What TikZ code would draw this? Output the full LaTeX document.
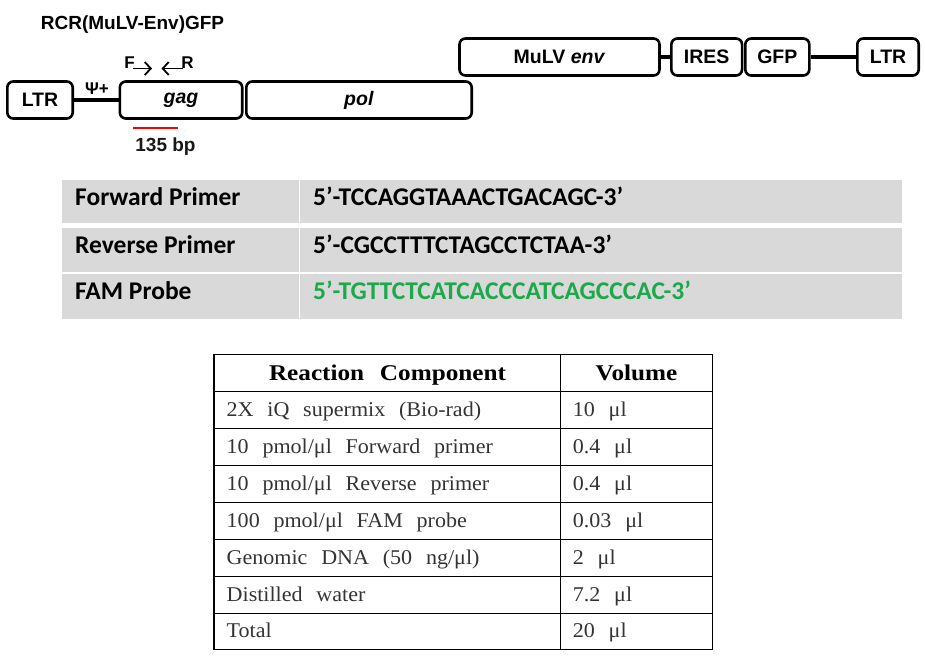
\documentclass[tikz,border=0pt]{standalone}
\usepackage{fontspec}
\usetikzlibrary{arrows.meta}
\setmainfont{Liberation Sans}
\newfontfamily\primerfont{Carlito}
\newfontfamily\mixfont[FakeStretch=1.05,WordSpace=2.5]{Liberation Serif}
\newfontfamily\mixhead[FakeStretch=1.12,WordSpace=2.5]{Liberation Serif}
\definecolor{cellgray}{HTML}{D9D9D9}
\definecolor{probegreen}{HTML}{1DA84A}
\tikzset{
  gene/.style={draw, line width=2.6pt, rounded corners=6pt, inner sep=0pt, minimum height=37pt, font=\fontsize{19.5}{22}\selectfont\bfseries},
  link/.style={line width=3.6pt},
  primer/.style={-{Straight Barb[length=6pt,width=13pt]}, line width=1.8pt},
  label/.style={anchor=base west, inner sep=0pt, font=\primerfont\fontsize{25.5}{28}\selectfont\bfseries},
  mixcell/.style={anchor=base west, inner sep=0pt, text=black!80, font=\mixfont\fontsize{21}{24}\selectfont},
  mixtitle/.style={anchor=base, inner sep=0pt, font=\mixhead\fontsize{22.5}{26}\selectfont\bfseries}
}
\begin{document}
\begin{tikzpicture}[x=1pt, y=-1pt]
\useasboundingbox (0,0) rectangle (925,660);
% vector map
\node[inner sep=0pt, font=\fontsize{19}{22}\selectfont\bfseries] (title) at (132.5,25) {RCR(MuLV-Env)GFP};
\node[gene, minimum width=65.4pt] (ltrA) at (40,100) {LTR};
\node[gene, minimum width=122.4pt] (gag) at (181,100) {\textit{gag}};
\node[gene, minimum width=225.4pt] (pol) at (359,100) {\textit{pol}};
\node[gene, minimum width=200pt] (env) at (559.5,57) {MuLV \textit{env}};
\node[gene, minimum width=70.7pt] (ires) at (706.7,57) {IRES};
\node[gene, minimum width=64pt] (gfp) at (777.3,57) {GFP};
\node[gene, minimum width=61.4pt] (ltrB) at (888,57) {LTR};
\draw[line width=4.6pt] (ltrA) -- (gag);
\draw[link] (env) -- (ires);
\draw[link] (gfp) -- (ltrB);
\node[inner sep=0pt, font=\fontsize{17}{20}\selectfont\bfseries] (psi) at (97,89) {Ψ+};
% primers
\node[inner sep=0pt, font=\fontsize{17}{20}\selectfont\bfseries] (fwd) at (129.5,62.5) {F};
\node[inner sep=0pt, font=\fontsize{17}{20}\selectfont\bfseries] (rev) at (187.5,62.5) {R};
\coordinate (fA) at (133,68.5);
\coordinate (fB) at (152,68.5);
\coordinate (rA) at (182.5,68.5);
\coordinate (rB) at (161.5,68.5);
\draw[primer] (fA) -- (fB);
\draw[primer] (rA) -- (rB);
\coordinate (ampA) at (133,127.7);
\coordinate (ampB) at (178,127.7);
\draw[red, line width=2pt] (ampA) -- (ampB);
\node[inner sep=0pt, font=\fontsize{19}{22}\selectfont\bfseries, text=black!90] (amp) at (165.5,146.5) {135 bp};
% primer table
\fill[cellgray] (62,180) rectangle (298.5,222.7);
\fill[cellgray] (300,180) rectangle (901.7,222.7);
\fill[cellgray] (62,228) rectangle (298.5,271.7);
\fill[cellgray] (300,228) rectangle (901.7,271.7);
\fill[cellgray] (62,274) rectangle (298.5,319);
\fill[cellgray] (300,274) rectangle (901.7,319);
\node[label] (fname) at (75,206) {Forward Primer};
\node[label] (rname) at (75,253.3) {Reverse Primer};
\node[label] (pname) at (75,299.6) {FAM Probe};
\node[label] (fseq) at (313,206) {5’-TCCAGGTAAACTGACAGC-3’};
\node[label] (rseq) at (313,253.3) {5’-CGCCTTTCTAGCCTCTAA-3’};
\node[label, text=probegreen] (pseq) at (313,299.6) {5’-TGTTCTCATCACCCATCAGCCCAC-3’};
% reaction mix
\draw[line width=1.4pt] (214,354.3) rectangle (712.3,649.3);
\draw[line width=1.4pt] (560.7,354.3) -- (560.7,649.3);
\foreach \y in {391.7,428.7,465.7,502.7,539.7,576.7,613.7}
  \draw[line width=1.4pt] (214,\y) -- (712.3,\y);
\node[mixtitle] (hcomp) at (387.5,380.7) {Reaction Component};
\node[mixtitle] (hvol) at (636.5,380.7) {Volume};
\node[mixcell] (c1) at (226.5,416.2) {2X iQ supermix (Bio-rad)};
\node[mixcell] (c2) at (226.5,453.2) {10 pmol/μl Forward primer};
\node[mixcell] (c3) at (226.5,490.2) {10 pmol/μl Reverse primer};
\node[mixcell] (c4) at (226.5,527.2) {100 pmol/μl FAM probe};
\node[mixcell] (c5) at (226.5,564.2) {Genomic DNA (50 ng/μl)};
\node[mixcell] (c6) at (226.5,601.2) {Distilled water};
\node[mixcell] (c7) at (226.5,637.5) {Total};
\node[mixcell] (v1) at (572.7,416.2) {10 μl};
\node[mixcell] (v2) at (572.7,453.2) {0.4 μl};
\node[mixcell] (v3) at (572.7,490.2) {0.4 μl};
\node[mixcell] (v4) at (572.7,527.2) {0.03 μl};
\node[mixcell] (v5) at (572.7,564.2) {2 μl};
\node[mixcell] (v6) at (572.7,601.2) {7.2 μl};
\node[mixcell] (v7) at (572.7,637.5) {20 μl};
\end{tikzpicture}
\end{document}
